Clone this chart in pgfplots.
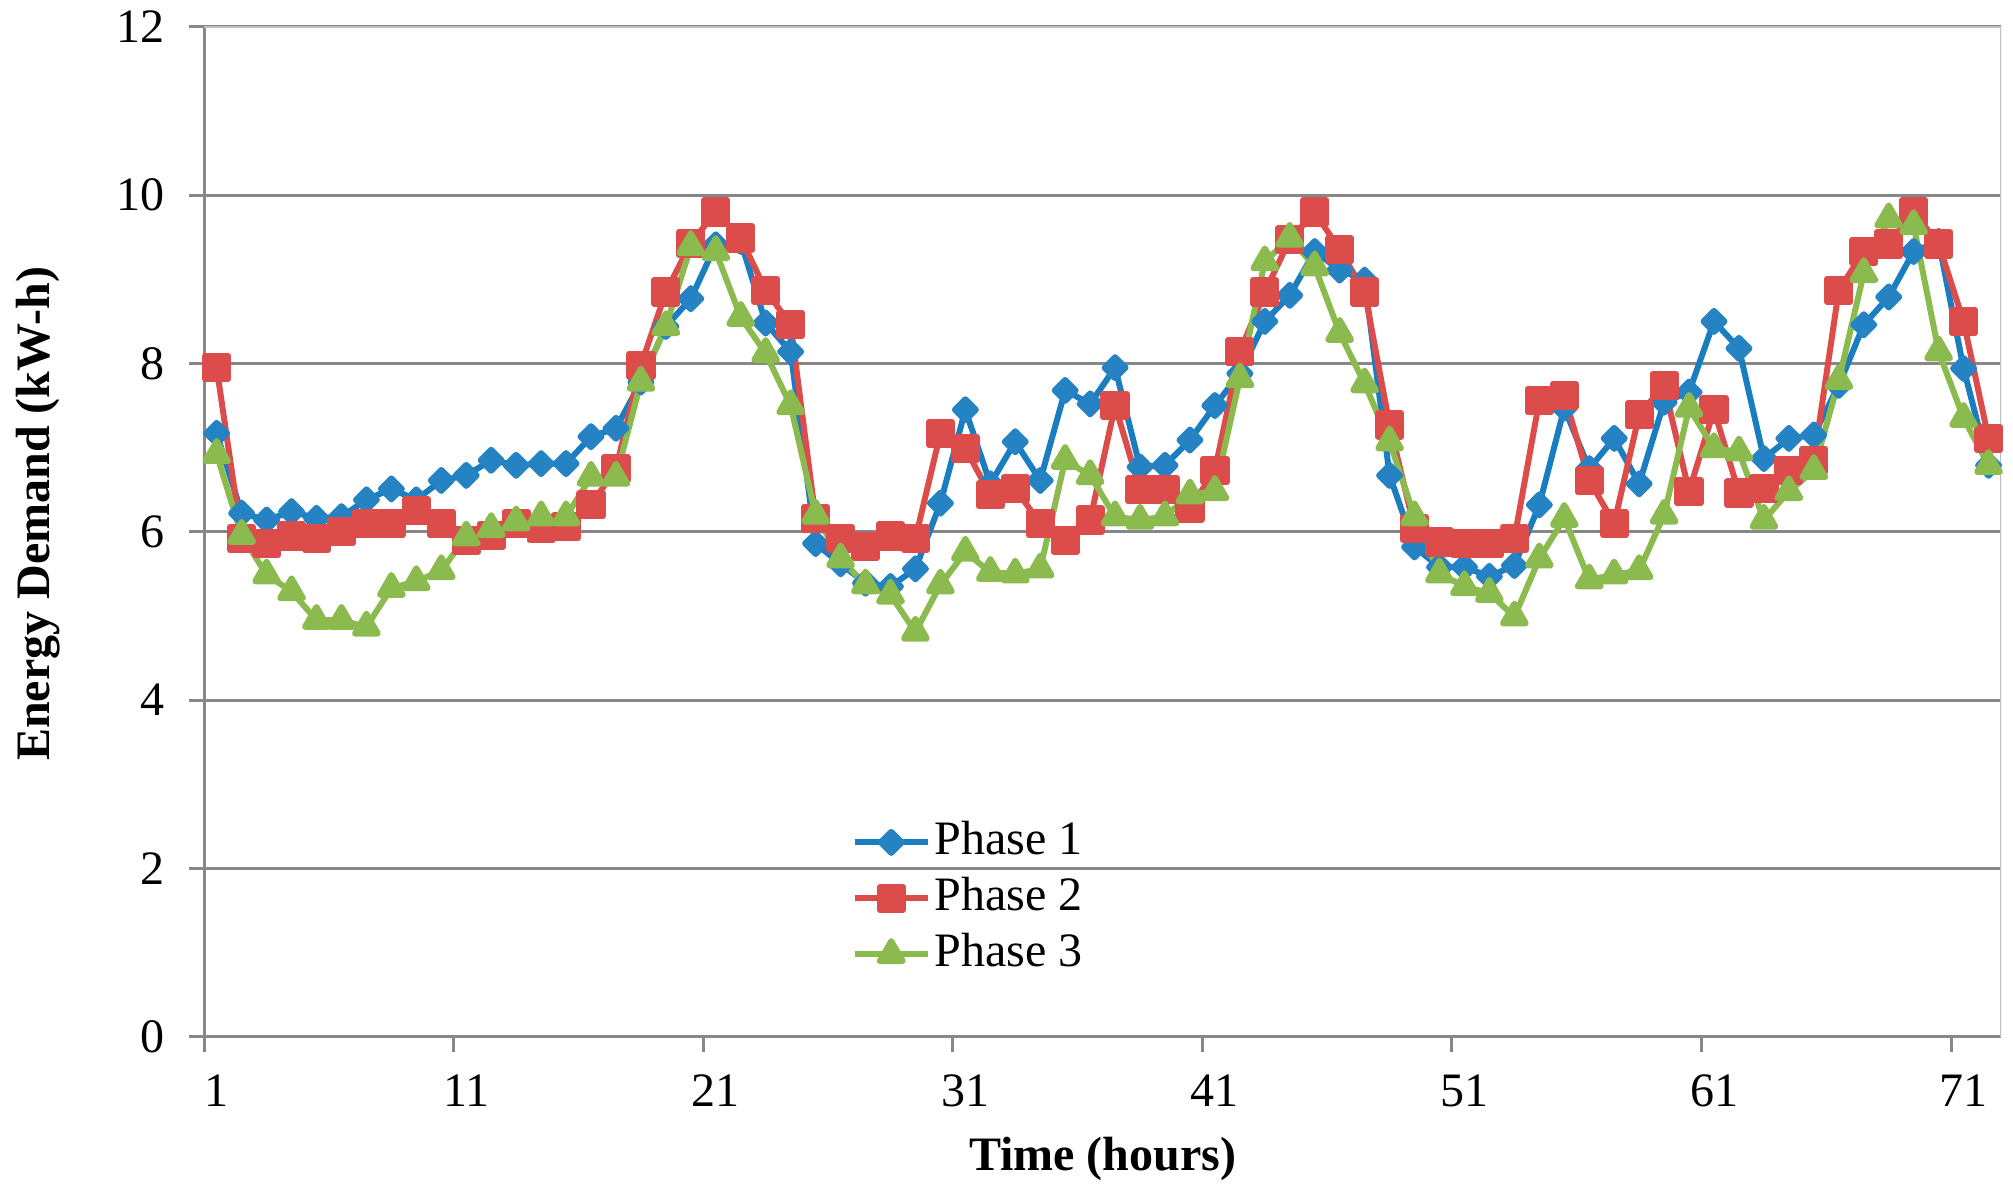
\documentclass[border=0pt]{standalone}
\usepackage{fontspec}
\setmainfont{Liberation Serif}
\usepackage{pgfplots}
\usepackage{pgfplotstable}
\pgfplotsset{compat=1.18}

\definecolor{p1blue}{RGB}{26,125,192}
\definecolor{p2red}{RGB}{220,76,74}
\definecolor{p3green}{RGB}{139,186,78}
\definecolor{gridgray}{RGB}{135,135,135}
\definecolor{bordergray}{RGB}{191,191,191}

% hora, fase 1, fase 2, fase 3 (kW-h)
\pgfplotstableread{
h  p1    p2    p3
1  7.17  7.95  6.92
2  6.22  5.92  5.96
3  6.14  5.86  5.49
4  6.24  5.95  5.29
5  6.16  5.92  4.95
6  6.18  6.00  4.95
7  6.38  6.10  4.87
8  6.51  6.10  5.33
9  6.38  6.25  5.41
10 6.61  6.10  5.54
11 6.67  5.90  5.94
12 6.85  5.96  6.04
13 6.79  6.10  6.12
14 6.81  6.04  6.18
15 6.81  6.06  6.18
16 7.13  6.32  6.65
17 7.23  6.75  6.65
18 7.78  7.98  7.78
19 8.44  8.85  8.44
20 8.77  9.43  9.39
21 9.41  9.80  9.33
22 9.45  9.49  8.55
23 8.48  8.87  8.12
24 8.14  8.46  7.50
25 5.86  6.16  6.20
26 5.62  5.92  5.68
27 5.39  5.83  5.37
28 5.35  5.95  5.25
29 5.56  5.92  4.81
30 6.34  7.17  5.37
31 7.45  6.99  5.76
32 6.57  6.44  5.52
33 7.07  6.51  5.50
34 6.61  6.10  5.56
35 7.68  5.90  6.85
36 7.52  6.14  6.67
37 7.95  7.50  6.18
38 6.77  6.50  6.14
39 6.79  6.50  6.18
40 7.09  6.28  6.44
41 7.50  6.73  6.48
42 7.88  8.14  7.82
43 8.50  8.85  9.21
44 8.81  9.47  9.49
45 9.33  9.80  9.15
46 9.11  9.35  8.36
47 8.99  8.85  7.76
48 6.67  7.27  7.07
49 5.82  6.04  6.18
50 5.58  5.88  5.50
51 5.58  5.86  5.35
52 5.47  5.86  5.27
53 5.60  5.92  4.99
54 6.32  7.56  5.68
55 7.47  7.62  6.16
56 6.75  6.61  5.43
57 7.11  6.10  5.49
58 6.57  7.39  5.54
59 7.54  7.74  6.20
60 7.66  6.48  7.47
61 8.50  7.45  6.99
62 8.18  6.46  6.95
63 6.87  6.51  6.14
64 7.11  6.73  6.48
65 7.15  6.85  6.73
66 7.74  8.87  7.80
67 8.46  9.33  9.07
68 8.79  9.42  9.72
69 9.33  9.80  9.64
70 9.45  9.42  8.14
71 7.94  8.50  7.35
72 6.79  7.11  6.79
}\data

\begin{document}
\begin{tikzpicture}
\useasboundingbox (-51.05pt,-37.8pt) rectangle (452.2pt,259.2pt);
\begin{axis}[
  at={(0,0)}, anchor=south west,
  scale only axis, width=449.2pt, height=252.5pt,
  xmin=0.5, xmax=72.5, ymin=0, ymax=12,
  axis lines*=left,
  axis line style={draw=gridgray, line width=0.75pt, -},
  % marcas entre categorias (estilo Excel), rotulos deslocados meia hora
  xtick={0.5,10.5,...,70.5}, xticklabels={1,11,21,31,41,51,61,71},
  xticklabel style={xshift=3.12pt, yshift=-2.25pt},
  yticklabel style={xshift=-2.65pt},
  ytick={0,2,...,12},
  tick align=outside, major tick length=3.75pt,
  tick style={draw=gridgray, line width=0.75pt},
  ymajorgrids, grid style={draw=gridgray, line width=0.75pt},
  tick label style={font=\fontsize{12}{14}\selectfont},
  /pgf/number format/assume math mode=true,
  xlabel={\textbf{Time (hours)}},
  ylabel={\textbf{Energy Demand (kW-h)}},
  label style={font=\fontsize{12}{14}\selectfont},
  xlabel style={at={(axis description cs:0.5,-0.1319)}, anchor=base},
  ylabel style={at={(axis description cs:-0.0922,0.518)}, anchor=center, rotate=0},
  legend entries={Phase 1, Phase 2, Phase 3},
  legend cell align=left,
  legend style={at={(rel axis cs:0.360,0.221)}, anchor=north west,
    draw=none, fill=none, font=\fontsize{12}{14}\selectfont,
    row sep=0pt, inner sep=0pt,
    nodes={inner sep=1pt, text height=9pt, text depth=3pt}},
  legend image code/.code={\draw[mark repeat=2, mark phase=2]
    plot coordinates {(0pt,0pt) (9.1pt,0pt) (18.2pt,0pt)};},
  ]
  \addplot[p1blue, line width=1.5pt, line join=round, mark=square*, mark size=1.85pt,
    mark options={solid, rotate=45, fill=p1blue!95!white, draw=p1blue!95!white}]
    table[x=h, y=p1] {\data};
  \addplot[p2red, line width=1.5pt, line join=round, mark=square*, mark size=2.9pt,
    mark options={solid, fill=p2red, draw=p2red}]
    table[x=h, y=p2] {\data};
  \addplot[p3green, line width=1.5pt, line join=round, mark=triangle*, mark size=3.3pt,
    mark options={solid, fill=p3green, draw=p3green}]
    table[x=h, y=p3] {\data};
  \draw[bordergray, line width=0.7pt] (rel axis cs:0,1) -- (rel axis cs:1,1) -- (rel axis cs:1,0);
\end{axis}
\end{tikzpicture}
\end{document}
